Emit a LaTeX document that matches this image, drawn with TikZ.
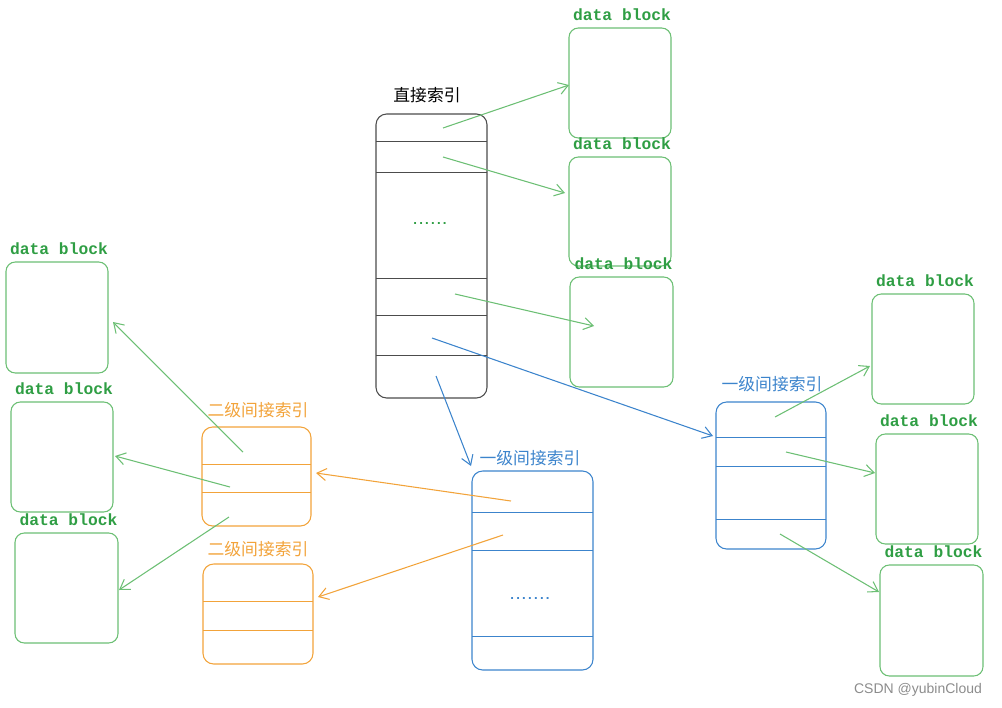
\documentclass[tikz,border=0pt]{standalone}
\usepackage{fontspec}
\usetikzlibrary{arrows.meta}
\newfontfamily\cjk{Noto Sans CJK SC}
\newfontfamily\monob{Liberation Mono}
\setmainfont{Liberation Sans}
\begin{document}
\begin{tikzpicture}[x=0.75pt,y=-0.75pt,
 gb/.style={draw=gline,rounded corners=7pt,line width=0.8pt},
 dl/.style={font=\monob\bfseries\fontsize{12.2}{13}\selectfont,text=dgreen},
 tip/.style={-{Straight Barb[length=7pt,width=9pt]}},
 gar/.style={tip,draw=gline,line width=0.8pt},
 bar/.style={tip,draw=bl,line width=0.8pt},
 oar/.style={tip,draw=orl,line width=0.8pt},
 cl/.style={font=\cjk\fontsize{12.6}{14}\selectfont}]
\definecolor{gline}{HTML}{6CBF74}
\definecolor{dgreen}{HTML}{2F9E44}
\definecolor{bl}{HTML}{3C84CC}
\definecolor{orl}{HTML}{F2A33A}
\useasboundingbox (0,0) rectangle (1002,707);
% direct index
\draw[rounded corners=8pt,draw=black!70,line width=0.8pt] (376,114) rectangle (487,398);
\foreach \y in {141,172,278,315,355}\draw[black!70] (376,\y)--(487,\y);
\node[cl] (dt) at (427,95) {直接索引};
\node[text=dgreen,font=\bfseries] (dd) at (430,224) {.\,.\,.\,.\,.\,.};
% data blocks
\foreach \n/\a/\b/\c/\d in {r1/569/28/671/138,r2/569/157/671/266,r3/570/277/673/387,
 s1/872/294/974/404,s2/876/434/978/544,s3/880/565/983/676,
 l1/6/262/108/373,l2/11/402/113/512,l3/15/533/118/643}{
 \draw[gb] (\a,\b) rectangle (\c,\d);
 \coordinate (\n) at ({(\a+\c)/2+2},{\b-13});
 \node[dl] at (\n) {data block};}
\coordinate (a1) at (443,128); \coordinate (b1) at (569,85);
\coordinate (a2) at (443,157); \coordinate (b2) at (565,193);
\coordinate (a3) at (455,294); \coordinate (b3) at (594,326);
\draw[gar] (a1)--(b1); \draw[gar] (a2)--(b2); \draw[gar] (a3)--(b3);
% right level1
\draw[rounded corners=8pt,draw=bl,line width=0.8pt] (716,402) rectangle (826,549);
\foreach \y in {437,466,519}\draw[bl] (716,\y)--(826,\y);
\node[cl,text=bl] (rt) at (772,384) {一级间接索引};
\coordinate (a4) at (432,338); \coordinate (b4) at (713,436);
\draw[bar] (a4)--(b4);
\coordinate (a5) at (775,417); \coordinate (b5) at (870,366);
\coordinate (a6) at (786,452); \coordinate (b6) at (875,473);
\coordinate (a7) at (780,534); \coordinate (b7) at (879,592);
\draw[gar] (a5)--(b5); \draw[gar] (a6)--(b6); \draw[gar] (a7)--(b7);
% middle level1
\draw[rounded corners=8pt,draw=bl,line width=0.8pt] (472,471) rectangle (593,670);
\foreach \y in {512,550,636}\draw[bl] (472,\y)--(593,\y);
\node[cl,text=bl] (mt) at (530,458) {一级间接索引};
\node[text=bl,font=\bfseries] (md) at (530,598) {.\,.\,.\,.\,.\,.\,.};
\coordinate (a8) at (436,376); \coordinate (b8) at (471,466);
\draw[bar] (a8)--(b8);
% level2
\draw[rounded corners=8pt,draw=orl,line width=0.8pt] (202,427) rectangle (311,526);
\foreach \y in {464,492}\draw[orl] (202,\y)--(311,\y);
\node[cl,text=orl] (o1) at (258,410) {二级间接索引};
\draw[rounded corners=8pt,draw=orl,line width=0.8pt] (203,564) rectangle (313,664);
\foreach \y in {601,630}\draw[orl] (203,\y)--(313,\y);
\node[cl,text=orl] (o2) at (258,549) {二级间接索引};
\coordinate (a9) at (511,501); \coordinate (b9) at (316,473);
\coordinate (a10) at (503,535); \coordinate (b10) at (318,597);
\draw[oar] (a9)--(b9); \draw[oar] (a10)--(b10);
\coordinate (a11) at (243,452); \coordinate (b11) at (113,322);
\coordinate (a12) at (230,487); \coordinate (b12) at (115,456);
\coordinate (a13) at (229,517); \coordinate (b13) at (119,590);
\draw[gar] (a11)--(b11); \draw[gar] (a12)--(b12); \draw[gar] (a13)--(b13);
\node[text=black!45,font=\fontsize{10.5}{12}\selectfont] (wm) at (918,690) {CSDN @yubinCloud};
\end{tikzpicture}
\end{document}
